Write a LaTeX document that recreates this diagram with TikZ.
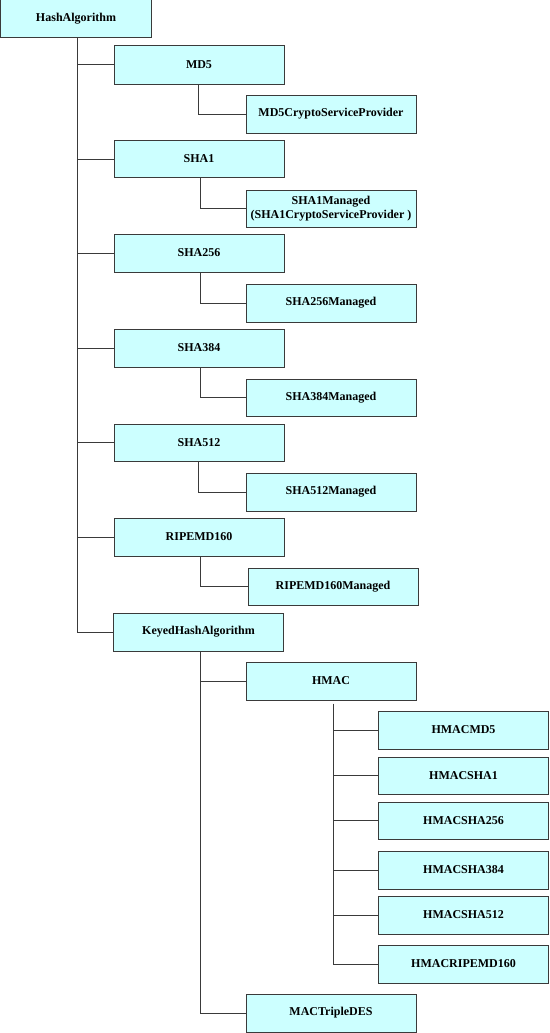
\documentclass[tikz,border=0pt]{standalone}
\usepackage{fontspec}
\setmainfont{Liberation Serif}
\definecolor{boxfill}{HTML}{CCFFFF}
\definecolor{linec}{HTML}{3A3A3A}
\tikzset{
  cls/.style={draw=linec, fill=boxfill, line width=1pt, minimum width=170pt, minimum height=38pt,
    inner sep=0pt, align=center, font=\fontsize{12}{14}\selectfont\bfseries},
  conn/.style={draw=linec, line width=1pt}
}
\begin{document}
\begin{tikzpicture}[x=1pt,y=-1pt]
\useasboundingbox (0,0) rectangle (549,1033);
\node[cls, minimum width=151pt] (hash) at (76,19) {HashAlgorithm};
\node[cls] (md5) at (199,65) {MD5};
\node[cls] (md5csp) at (331,114) {MD5CryptoServiceProvider};
\node[cls, minimum height=37pt] (sha1) at (199,159) {SHA1};
\node[cls, minimum height=37pt] (sha1m) at (331,208.5) {SHA1Managed\\(SHA1CryptoServiceProvider )};
\node[cls] (sha256) at (199,253) {SHA256};
\node[cls] (sha256m) at (331,303) {SHA256Managed};
\node[cls] (sha384) at (199,348) {SHA384};
\node[cls, minimum height=37pt] (sha384m) at (331,397.5) {SHA384Managed};
\node[cls, minimum height=37pt] (sha512) at (199,442.5) {SHA512};
\node[cls] (sha512m) at (331,492) {SHA512Managed};
\node[cls] (ripemd) at (199,537) {RIPEMD160};
\node[cls, minimum height=37pt] (ripemdm) at (333,586.5) {RIPEMD160Managed};
\node[cls] (kha) at (198.5,632) {KeyedHashAlgorithm};
\node[cls] (hmac) at (331,681) {HMAC};
\node[cls] (hmd5) at (463.5,730) {HMACMD5};
\node[cls, minimum height=37pt] (hsha1) at (463.5,775.5) {HMACSHA1};
\node[cls, minimum height=37pt] (hsha256) at (463.5,820.5) {HMACSHA256};
\node[cls] (hsha384) at (463.5,870) {HMACSHA384};
\node[cls] (hsha512) at (463.5,915) {HMACSHA512};
\node[cls] (hripemd) at (463.5,964) {HMACRIPEMD160};
\node[cls] (mac) at (331,1013) {MACTripleDES};
% trunk from HashAlgorithm
\coordinate (tv) at ([xshift=1pt]hash.south);
\draw[conn] (tv) |- (kha.west);
\foreach \n in {md5,sha1,sha256,sha384,sha512,ripemd}
  \draw[conn] (\n.west) -- (\n.west -| tv);
% children of the hash classes
\draw[conn] ([xshift=-1pt]md5.south) |- (md5csp.west);
\draw[conn] ([xshift=1pt]sha1.south) |- (sha1m.west);
\draw[conn] ([xshift=1pt]sha256.south) |- (sha256m.west);
\draw[conn] ([xshift=1pt]sha384.south) |- (sha384m.west);
\draw[conn] ([xshift=-1pt]sha512.south) |- (sha512m.west);
\draw[conn] ([xshift=1pt]ripemd.south) |- (ripemdm.west);
% KeyedHashAlgorithm
\coordinate (kv) at ([xshift=1.5pt]kha.south);
\draw[conn] (kv) |- (mac.west);
\draw[conn] (hmac.west) -- (hmac.west -| kv);
% HMAC
\coordinate (hv) at ([xshift=2pt,yshift=-3pt]hmac.south);
\draw[conn] (hv) |- (hripemd.west);
\foreach \n in {hmd5,hsha1,hsha256,hsha384,hsha512}
  \draw[conn] (\n.west) -- (\n.west -| hv);
\end{tikzpicture}
\end{document}
